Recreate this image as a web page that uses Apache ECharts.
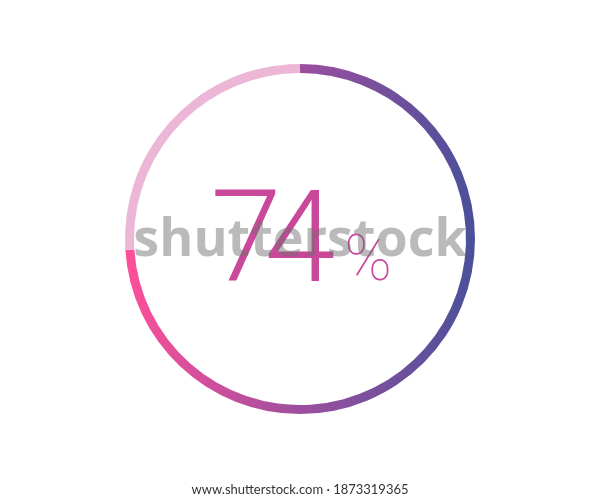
<!DOCTYPE html>
<html>
<head>
<meta charset="utf-8">
<script src="https://cdn.jsdelivr.net/npm/echarts@6/dist/echarts.min.js"></script>
<style>html,body{margin:0;padding:0;background:#fff}#main{width:600px;height:499px}</style>
</head>
<body>
<div id="main"></div>
<script>
const progressNames = ['Progress', 'Remaining'];
const progressValues = [74, 26];
const percentLabel = '%';
const watermarkText = 'shutterstock';
const footerText = 'www.shutterstock.com · 1873319365';

const chart = echarts.init(document.getElementById('main'), null, {renderer: 'canvas'});
const cx = 300, cy = 239;
const digits = String(progressValues[0]).split('');
const digitX = [246, 300];
const option = {
  backgroundColor: '#ffffff',
  animation: false,
  series: [{
    type: 'pie',
    center: [cx, cy],
    radius: [166, 175],
    startAngle: 90,
    clockwise: true,
    silent: true,
    label: {show: false},
    labelLine: {show: false},
    emphasis: {disabled: true},
    data: [
      {name: progressNames[0], value: progressValues[0],
       itemStyle: {color: new echarts.graphic.LinearGradient(0, 0, 1, 0, [
         {offset: 0, color: '#ff4f99'},
         {offset: 0.5, color: '#9c4f9e'},
         {offset: 1, color: '#4a509a'}
       ])}},
      {name: progressNames[1], value: progressValues[1], itemStyle: {color: '#ecb7d7'}}
    ]
  }],
  graphic: digits.map((d, i) => ({
    type: 'text', x: digitX[i] !== undefined ? digitX[i] : 300, y: 249, z: 10, style: {
      text: d, fill: '#c9489a', font: '300 128px Roboto',
      textAlign: 'center', textVerticalAlign: 'middle'}
  })).concat([
    {type: 'text', x: 368, y: 264, z: 10, style: {
      text: percentLabel, fill: '#c9489a', font: '100 64px Roboto',
      textAlign: 'center', textVerticalAlign: 'middle'}},
    {type: 'text', x: 300, y: 241, z: 20, style: {
      text: watermarkText, fill: 'rgba(110,110,110,0.48)', font: 'bold 52px "Open Sans"',
      textAlign: 'center', textVerticalAlign: 'middle'}},
    {type: 'text', x: 300, y: 490, z: 10, style: {
      text: footerText, fill: '#333333', font: '13px Lato',
      textAlign: 'center', textVerticalAlign: 'middle'}}
  ])
};
chart.setOption(option);
</script>
</body>
</html>
